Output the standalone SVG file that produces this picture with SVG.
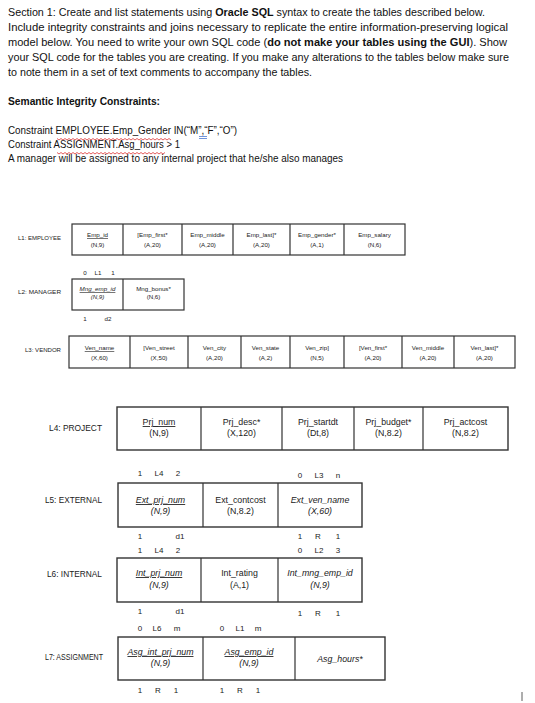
<svg xmlns="http://www.w3.org/2000/svg" width="535" height="703" viewBox="0 0 535 703">
<style>
  .p { font-family: "Liberation Sans", Arial, sans-serif; font-size: 11px; fill: #111; }
  .b { font-weight: bold; }
  .s { font-family: "Liberation Sans", Arial, sans-serif; font-size: 6.2px; fill: #222; text-anchor: middle; }
  .sl { font-family: "Liberation Sans", Arial, sans-serif; font-size: 6.2px; fill: #222; }
  .m { font-family: "Liberation Sans", Arial, sans-serif; font-size: 8.8px; fill: #222; text-anchor: middle; }
  .ml { font-family: "Liberation Sans", Arial, sans-serif; font-size: 8.8px; fill: #222; }
  .c { font-family: "Liberation Sans", Arial, sans-serif; font-size: 8px; fill: #222; text-anchor: middle; }
  .u { text-decoration: underline; }
  .i { font-style: italic; }
  .box { fill: #fff; stroke: #333; stroke-width: 1.2; }
  .box2 { fill: #fff; stroke: #333; stroke-width: 1.4; }
  .div { stroke: #333; stroke-width: 1.2; }
  .wave { fill: none; stroke: #d33; stroke-width: 0.8; }
</style>
<rect width="535" height="703" fill="#fff"/>

<g id="intro">
  <text class="p" x="8" y="16" textLength="477" lengthAdjust="spacingAndGlyphs">Section 1: Create and list statements using <tspan class="b">Oracle SQL</tspan> syntax to create the tables described below.</text>
  <text class="p" x="8" y="31" textLength="500" lengthAdjust="spacingAndGlyphs">Include integrity constraints and joins necessary to replicate the entire information-preserving logical</text>
  <text class="p" x="8" y="46" textLength="499" lengthAdjust="spacingAndGlyphs">model below. You need to write your own SQL code (<tspan class="b">do not make your tables using the GUI</tspan>). Show</text>
  <text class="p" x="8" y="61" textLength="501" lengthAdjust="spacingAndGlyphs">your SQL code for the tables you are creating. If you make any alterations to the tables below make sure</text>
  <text class="p" x="8" y="76" textLength="304" lengthAdjust="spacingAndGlyphs">to note them in a set of text comments to accompany the tables.</text>
  <text class="p b" x="8" y="105" textLength="152" lengthAdjust="spacingAndGlyphs">Semantic Integrity Constraints:</text>
  <text class="p" x="8" y="134" textLength="229" lengthAdjust="spacingAndGlyphs">Constraint EMPLOYEE.Emp_Gender IN(“M”,“F”,“O”)</text>
  <text class="p" x="8" y="148" textLength="172" lengthAdjust="spacingAndGlyphs">Constraint ASSIGNMENT.Asg_hours &gt; 1</text>
  <text class="p" x="8" y="162" textLength="335" lengthAdjust="spacingAndGlyphs">A manager will be assigned to any internal project that he/she also manages</text>
  <path class="wave" d="M57,138.5 l2,1.5 l2,-1.5 l2,1.5 l2,-1.5 l2,1.5 l2,-1.5 l2,1.5 l2,-1.5 l2,1.5 l2,-1.5 l2,1.5 l2,-1.5 l2,1.5 l2,-1.5 l2,1.5 l2,-1.5 l2,1.5 l2,-1.5 l2,1.5 l2,-1.5 l2,1.5 l2,-1.5 l2,1.5 l2,-1.5 l2,1.5 l2,-1.5 l2,1.5 l2,-1.5 l2,1.5 l2,-1.5 l2,1.5 l2,-1.5 l2,1.5 l2,-1.5 l2,1.5 l2,-1.5 l2,1.5 l2,-1.5 l2,1.5 l2,-1.5 l2,1.5 l2,-1.5 l2,1.5 l2,-1.5 l2,1.5 l2,-1.5 l2,1.5 l2,-1.5 l2,1.5 l2,-1.5 l2,1.5 l2,-1.5 l2,1.5 l2,-1.5 l2,1.5 l2,-1.5 l2,1.5"/>
  <path class="wave" d="M57,152.5 l2,1.5 l2,-1.5 l2,1.5 l2,-1.5 l2,1.5 l2,-1.5 l2,1.5 l2,-1.5 l2,1.5 l2,-1.5 l2,1.5 l2,-1.5 l2,1.5 l2,-1.5 l2,1.5 l2,-1.5 l2,1.5 l2,-1.5 l2,1.5 l2,-1.5 l2,1.5 l2,-1.5 l2,1.5 l2,-1.5 l2,1.5 l2,-1.5 l2,1.5 l2,-1.5 l2,1.5 l2,-1.5 l2,1.5 l2,-1.5 l2,1.5 l2,-1.5 l2,1.5 l2,-1.5 l2,1.5 l2,-1.5 l2,1.5 l2,-1.5 l2,1.5 l2,-1.5 l2,1.5 l2,-1.5 l2,1.5 l2,-1.5 l2,1.5 l2,-1.5 l2,1.5 l2,-1.5 l2,1.5 l2,-1.5 l2,1.5 l2,-1.5"/>
  <path d="M199,136.5 h8 M199,138.5 h8" stroke="#36c" stroke-width="0.7" fill="none"/>
</g>

<g id="L1">
  <text class="sl" x="18" y="240" textLength="43" lengthAdjust="spacingAndGlyphs">L1: EMPLOYEE</text>
  <rect class="box" x="72" y="224" width="333" height="31"/>
  <path class="div" d="M123,224V255M182,224V255M233,224V255M290,224V255M344,224V255"/>
  <text class="s u" x="97.5" y="237">Emp_id</text><text class="s" x="97.5" y="247">(N,9)</text>
  <text class="s" x="152.5" y="237">[Emp_first*</text><text class="s" x="152.5" y="247">(A,20)</text>
  <text class="s" x="207.5" y="237">Emp_middle</text><text class="s" x="207.5" y="247">(A,20)</text>
  <text class="s" x="261.5" y="237">Emp_last]*</text><text class="s" x="261.5" y="247">(A,20)</text>
  <text class="s" x="317" y="237">Emp_gender*</text><text class="s" x="317" y="247">(A,1)</text>
  <text class="s" x="374.5" y="237">Emp_salary</text><text class="s" x="374.5" y="247">(N,6)</text>
</g>

<g id="L2">
  <text class="s" x="85" y="275">0</text><text class="s" x="98" y="275">L1</text><text class="s" x="113" y="275">1</text>
  <text class="sl" x="18" y="294" textLength="43" lengthAdjust="spacingAndGlyphs">L2: MANAGER</text>
  <rect class="box" x="72" y="279" width="112" height="31"/>
  <path class="div" d="M123,279V310"/>
  <text class="s u i" x="97.5" y="291">Mng_emp_id</text><text class="s i" x="97.5" y="299">(N,9)</text>
  <text class="s" x="153.5" y="291">Mng_bonus*</text><text class="s" x="153.5" y="299">(N,6)</text>
  <text class="s" x="85" y="321">1</text><text class="s" x="108" y="321">d2</text>
</g>

<g id="L3">
  <text class="sl" x="25" y="352" textLength="36" lengthAdjust="spacingAndGlyphs">L3: VENDOR</text>
  <rect class="box" x="69" y="336" width="446" height="32"/>
  <path class="div" d="M130,336V368M188,336V368M241,336V368M290,336V368M344,336V368M402,336V368M454,336V368"/>
  <text class="s u" x="99.5" y="350">Ven_name</text><text class="s" x="99.5" y="360">(X,60)</text>
  <text class="s" x="159" y="350">[Ven_street</text><text class="s" x="159" y="360">(X,50)</text>
  <text class="s" x="214.5" y="350">Ven_city</text><text class="s" x="214.5" y="360">(A,20)</text>
  <text class="s" x="265.5" y="350">Ven_state</text><text class="s" x="265.5" y="360">(A,2)</text>
  <text class="s" x="317" y="350">Ven_zip]</text><text class="s" x="317" y="360">(N,5)</text>
  <text class="s" x="373" y="350">[Ven_first*</text><text class="s" x="373" y="360">(A,20)</text>
  <text class="s" x="428" y="350">Ven_middle</text><text class="s" x="428" y="360">(A,20)</text>
  <text class="s" x="484.5" y="350">Ven_last]*</text><text class="s" x="484.5" y="360">(A,20)</text>
</g>

<g id="L4">
  <text class="ml" x="49" y="431" textLength="53" lengthAdjust="spacingAndGlyphs">L4: PROJECT</text>
  <rect class="box2" x="117" y="407" width="391" height="43"/>
  <path class="div" d="M201,407V450M282,407V450M354,407V450M423,407V450"/>
  <text class="m u" x="159" y="425">Prj_num</text><text class="m" x="159" y="436">(N,9)</text>
  <text class="m" x="241.5" y="425">Prj_desc*</text><text class="m" x="241.5" y="436">(X,120)</text>
  <text class="m" x="318" y="425">Prj_startdt</text><text class="m" x="318" y="436">(Dt,8)</text>
  <text class="m" x="388.5" y="425">Prj_budget*</text><text class="m" x="388.5" y="436">(N,8.2)</text>
  <text class="m" x="465.5" y="425">Prj_actcost</text><text class="m" x="465.5" y="436">(N,8.2)</text>
</g>

<g id="L5">
  <text class="c" x="140" y="476">1</text><text class="c" x="159" y="476">L4</text><text class="c" x="178" y="476">2</text>
  <text class="c" x="300" y="478">0</text><text class="c" x="319" y="478">L3</text><text class="c" x="338" y="478">n</text>
  <text class="ml" x="45" y="503" textLength="57" lengthAdjust="spacingAndGlyphs">L5: EXTERNAL</text>
  <rect class="box2" x="118" y="483" width="244" height="44"/>
  <path class="div" d="M203,483V527M278,483V527"/>
  <text class="m u i" x="160.5" y="503">Ext_prj_num</text><text class="m i" x="160.5" y="514">(N,9)</text>
  <text class="m" x="240.5" y="503">Ext_contcost</text><text class="m" x="240.5" y="514">(N,8.2)</text>
  <text class="m i" x="320" y="503">Ext_ven_name</text><text class="m i" x="320" y="514">(X,60)</text>
  <text class="c" x="140" y="539">1</text><text class="c" x="180" y="539">d1</text>
  <text class="c" x="300" y="539">1</text><text class="c" x="318" y="539">R</text><text class="c" x="338" y="539">1</text>
</g>

<g id="L6">
  <text class="c" x="140" y="553">1</text><text class="c" x="159" y="553">L4</text><text class="c" x="178" y="553">2</text>
  <text class="c" x="300" y="553">0</text><text class="c" x="319" y="553">L2</text><text class="c" x="338" y="553">3</text>
  <text class="ml" x="47" y="577" textLength="55" lengthAdjust="spacingAndGlyphs">L6: INTERNAL</text>
  <rect class="box2" x="117" y="558" width="245" height="44"/>
  <path class="div" d="M201,558V602M278,558V602"/>
  <text class="m u i" x="159" y="576">Int_prj_num</text><text class="m i" x="159" y="588">(N,9)</text>
  <text class="m" x="239.5" y="576">Int_rating</text><text class="m" x="239.5" y="588">(A,1)</text>
  <text class="m i" x="320" y="576">Int_mng_emp_id</text><text class="m i" x="320" y="588">(N,9)</text>
  <text class="c" x="140" y="614">1</text><text class="c" x="180" y="614">d1</text>
  <text class="c" x="300" y="616">1</text><text class="c" x="318" y="616">R</text><text class="c" x="338" y="616">1</text>
  <text class="c" x="140" y="631">0</text><text class="c" x="157" y="631">L6</text><text class="c" x="177" y="631">m</text>
  <text class="c" x="222" y="631">0</text><text class="c" x="240" y="631">L1</text><text class="c" x="258" y="631">m</text>
</g>

<g id="L7">
  <text class="ml" x="45" y="660" textLength="58" lengthAdjust="spacingAndGlyphs">L7: ASSIGNMENT</text>
  <rect class="box2" x="118" y="637" width="267" height="43"/>
  <path class="div" d="M203,637V680M295,637V680"/>
  <text class="m u i" x="160.5" y="655">Asg_int_prj_num</text><text class="m i" x="160.5" y="666">(N,9)</text>
  <text class="m u i" x="249" y="655">Asg_emp_id</text><text class="m i" x="249" y="666">(N,9)</text>
  <text class="m i" x="340" y="662">Asg_hours*</text>
  <text class="c" x="140" y="693">1</text><text class="c" x="158" y="693">R</text><text class="c" x="176" y="693">1</text>
  <text class="c" x="222" y="693">1</text><text class="c" x="240" y="693">R</text><text class="c" x="258" y="693">1</text>
</g>

<g id="connectors"></g>
<path d="M522,692V701" stroke="#333" stroke-width="0.8"/>
</svg>
